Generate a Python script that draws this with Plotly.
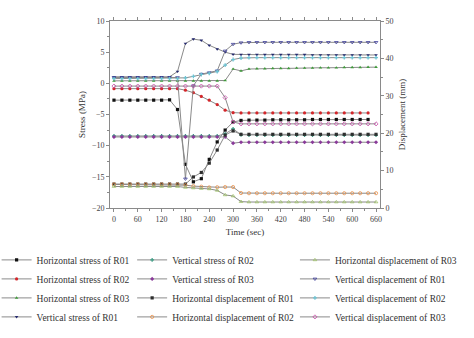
import plotly.graph_objects as go

# Sampling times (sec)
time_sec = [0, 20, 40, 60, 80, 100, 120, 140, 160, 180, 200, 220, 240, 260, 280, 300, 320,
            340, 360, 380, 400, 420, 440, 460, 480, 500, 520, 540, 560, 580, 600, 620, 640, 660]

# Stresses (MPa), left axis
hs_r01 = [-2.7, -2.7, -2.7, -2.7, -2.7, -2.7, -2.7, -2.65, -4.2, -13.0, -15.8, -15.3, -12.2, -9.4, -7.5, -6.2, -5.95,
          -5.9, -5.9, -5.9, -5.85, -5.85, -5.85, -5.85, -5.85, -5.8, -5.8, -5.8, -5.8, -5.8, -5.8, -5.8, -5.8]
hs_r02 = [-0.85, -0.85, -0.85, -0.85, -0.85, -0.85, -0.85, -0.85, -0.85, -1.1, -1.5, -2.1, -2.7, -3.4, -4.3, -4.7, -4.75,
          -4.75, -4.75, -4.75, -4.75, -4.75, -4.75, -4.75, -4.75, -4.75, -4.75, -4.75, -4.75, -4.75, -4.75, -4.75, -4.75]
hs_r03 = [0.4, 0.4, 0.4, 0.4, 0.4, 0.4, 0.4, 0.4, 0.4, 0.4, 0.4, 0.4, 0.4, 0.4, 0.45, 2.3, 2.0,
          2.3, 2.35, 2.35, 2.4, 2.4, 2.4, 2.45, 2.45, 2.45, 2.5, 2.5, 2.5, 2.55, 2.55, 2.55, 2.6, 2.6]
vs_r01 = [1.05, 1.05, 1.05, 1.05, 1.05, 1.05, 1.05, 1.05, 1.9, 6.4, 7.1, 6.9, 6.1, 5.5, 5.0, 4.65, 4.6,
          4.6, 4.6, 4.6, 4.6, 4.6, 4.6, 4.6, 4.6, 4.55, 4.55, 4.55, 4.55, 4.55, 4.55, 4.55, 4.55, 4.55]
vs_r02 = [-8.45, -8.45, -8.45, -8.45, -8.45, -8.45, -8.45, -8.45, -8.45, -8.45, -8.45, -8.45, -8.45, -8.45, -8.1, -7.3, -8.25,
          -8.3, -8.3, -8.3, -8.3, -8.3, -8.3, -8.3, -8.3, -8.3, -8.3, -8.3, -8.3, -8.3, -8.3, -8.3, -8.3, -8.3]
vs_r03 = [-8.6, -8.6, -8.6, -8.6, -8.6, -8.6, -8.6, -8.6, -8.6, -8.6, -8.6, -8.6, -8.6, -8.6, -8.6, -9.6, -9.45,
          -9.45, -9.45, -9.45, -9.45, -9.45, -9.45, -9.45, -9.45, -9.45, -9.45, -9.45, -9.45, -9.45, -9.45, -9.45, -9.45, -9.45]

# Displacements (mm), right axis
hd_r01 = [6.4, 6.4, 6.4, 6.4, 6.4, 6.4, 6.4, 6.4, 6.4, 6.4, 8.3, 9.5, 12.0, 15.5, 19.5, 20.6, 19.7,
          19.7, 19.7, 19.7, 19.7, 19.7, 19.7, 19.7, 19.7, 19.7, 19.7, 19.7, 19.7, 19.7, 19.7, 19.7, 19.7, 19.7]
hd_r02 = [6.3, 6.3, 6.3, 6.3, 6.3, 6.3, 6.3, 6.3, 6.3, 6.1, 5.85, 5.7, 5.5, 5.55, 5.6, 5.6, 4.0,
          3.95, 3.95, 3.95, 3.95, 3.95, 3.95, 3.95, 3.95, 3.95, 3.95, 3.95, 3.95, 3.95, 3.95, 3.95, 3.95, 3.95]
hd_r03 = [5.75, 5.75, 5.75, 5.75, 5.75, 5.75, 5.75, 5.75, 5.75, 5.5, 5.35, 5.2, 5.1, 4.7, 3.5, 3.2, 1.7,
          1.6, 1.6, 1.6, 1.6, 1.6, 1.6, 1.6, 1.6, 1.6, 1.6, 1.6, 1.6, 1.6, 1.6, 1.6, 1.6, 1.6]
vd_r01 = [34.9, 34.9, 34.9, 34.9, 34.9, 34.9, 34.9, 34.9, 34.9, 7.8, 32.7, 35.8, 36.2, 36.7, 42.0, 43.8, 44.2,
          44.3, 44.3, 44.3, 44.3, 44.3, 44.3, 44.3, 44.3, 44.3, 44.3, 44.3, 44.3, 44.3, 44.3, 44.3, 44.3, 44.3]
vd_r02 = [34.6, 34.6, 34.6, 34.6, 34.6, 34.6, 34.6, 34.6, 34.6, 34.8, 35.2, 35.7, 36.0, 36.5, 38.2, 39.7, 40.1,
          40.2, 40.2, 40.2, 40.2, 40.2, 40.2, 40.2, 40.2, 40.2, 40.2, 40.2, 40.2, 40.2, 40.2, 40.2, 40.2, 40.2]
vd_r03 = [32.6, 32.6, 32.6, 32.6, 32.6, 32.6, 32.6, 32.6, 32.6, 32.6, 32.6, 32.6, 32.6, 32.6, 29.5, 23.0, 22.5,
          22.5, 22.5, 22.5, 22.5, 22.5, 22.5, 22.5, 22.5, 22.5, 22.5, 22.5, 22.5, 22.5, 22.5, 22.5, 22.5, 22.5]

# name, values, marker colour, marker symbol, y axis, legend column
series = [
    ("Horizontal stress of R01", hs_r01, "#111111", "square", "y", "legend"),
    ("Horizontal stress of R02", hs_r02, "#d3262a", "circle", "y", "legend"),
    ("Horizontal stress of R03", hs_r03, "#3f9a3a", "triangle-up", "y", "legend"),
    ("Vertical stress of R01", vs_r01, "#24286e", "triangle-down", "y", "legend"),
    ("Vertical stress of R02", vs_r02, "#3f9e86", "cross", "y", "legend2"),
    ("Vertical stress of R03", vs_r03, "#8a3a9a", "diamond", "y", "legend2"),
    ("Horizontal displacement of R01", hd_r01, "#2e2e2e", "square", "y2", "legend2"),
    ("Horizontal displacement of R02", hd_r02, "#e8904a", "circle-open", "y2", "legend2"),
    ("Horizontal displacement of R03", hd_r03, "#9ec068", "triangle-up-open", "y2", "legend3"),
    ("Vertical displacement of R01", vd_r01, "#3d3d9a", "triangle-down-open", "y2", "legend3"),
    ("Vertical displacement of R02", vd_r02, "#6ec3d3", "cross", "y2", "legend3"),
    ("Vertical displacement of R03", vd_r03, "#c84aa8", "diamond-open", "y2", "legend3"),
]

fig = go.Figure()
for name, vals, color, symbol, yax, leg in series:
    fig.add_trace(go.Scatter(
        x=time_sec, y=vals, name=name, yaxis=yax, legend=leg,
        mode="lines+markers",
        line=dict(color="#8a8a8a", width=1),
        marker=dict(color=color, symbol=symbol, size=3.2,
                    line=dict(color=color, width=0.8 if "open" in symbol else 0)),
    ))

FONT = "Liberation Serif"
axis_common = dict(
    showline=True, linecolor="#8a8a8a", linewidth=1,
    ticks="outside", ticklen=3, tickcolor="#8a8a8a",
    showgrid=False, zeroline=False,
    tickfont=dict(family=FONT, size=8, color="#444"),
    title_font=dict(family=FONT, size=9, color="#333"),
)

legend_common = dict(
    font=dict(family=FONT, size=9.5, color="#333"),
    bgcolor="rgba(0,0,0,0)", yanchor="top", xanchor="left",
    orientation="v", y=-0.2,
)

fig.update_layout(
    width=474, height=338,
    margin=dict(l=110, r=94, t=21, b=130, autoexpand=False),
    paper_bgcolor="white", plot_bgcolor="white",
    xaxis=dict(range=[-10, 670], tickvals=[0, 60, 120, 180, 240, 300, 360, 420, 480, 540, 600, 660],
               minor=dict(dtick=30, tick0=0, ticks="outside", ticklen=2, tickcolor="#8a8a8a"),
               mirror="ticks", title=dict(text="Time (sec)", standoff=6), **axis_common),
    yaxis=dict(range=[-20, 10], dtick=5,
               minor=dict(dtick=2.5, ticks="outside", ticklen=2, tickcolor="#8a8a8a"),
               title=dict(text="Stress (MPa)", standoff=4), **axis_common),
    yaxis2=dict(range=[0, 50], dtick=10, overlaying="y", side="right",
                minor=dict(dtick=5, ticks="outside", ticklen=2, tickcolor="#8a8a8a"),
                title=dict(text="Displacement (mm)", standoff=6), **axis_common),
    legend=dict(x=-0.42, **legend_common),
    legend2=dict(x=0.082, **legend_common),
    legend3=dict(x=0.685, **legend_common),
)

fig.write_html("out.html")
